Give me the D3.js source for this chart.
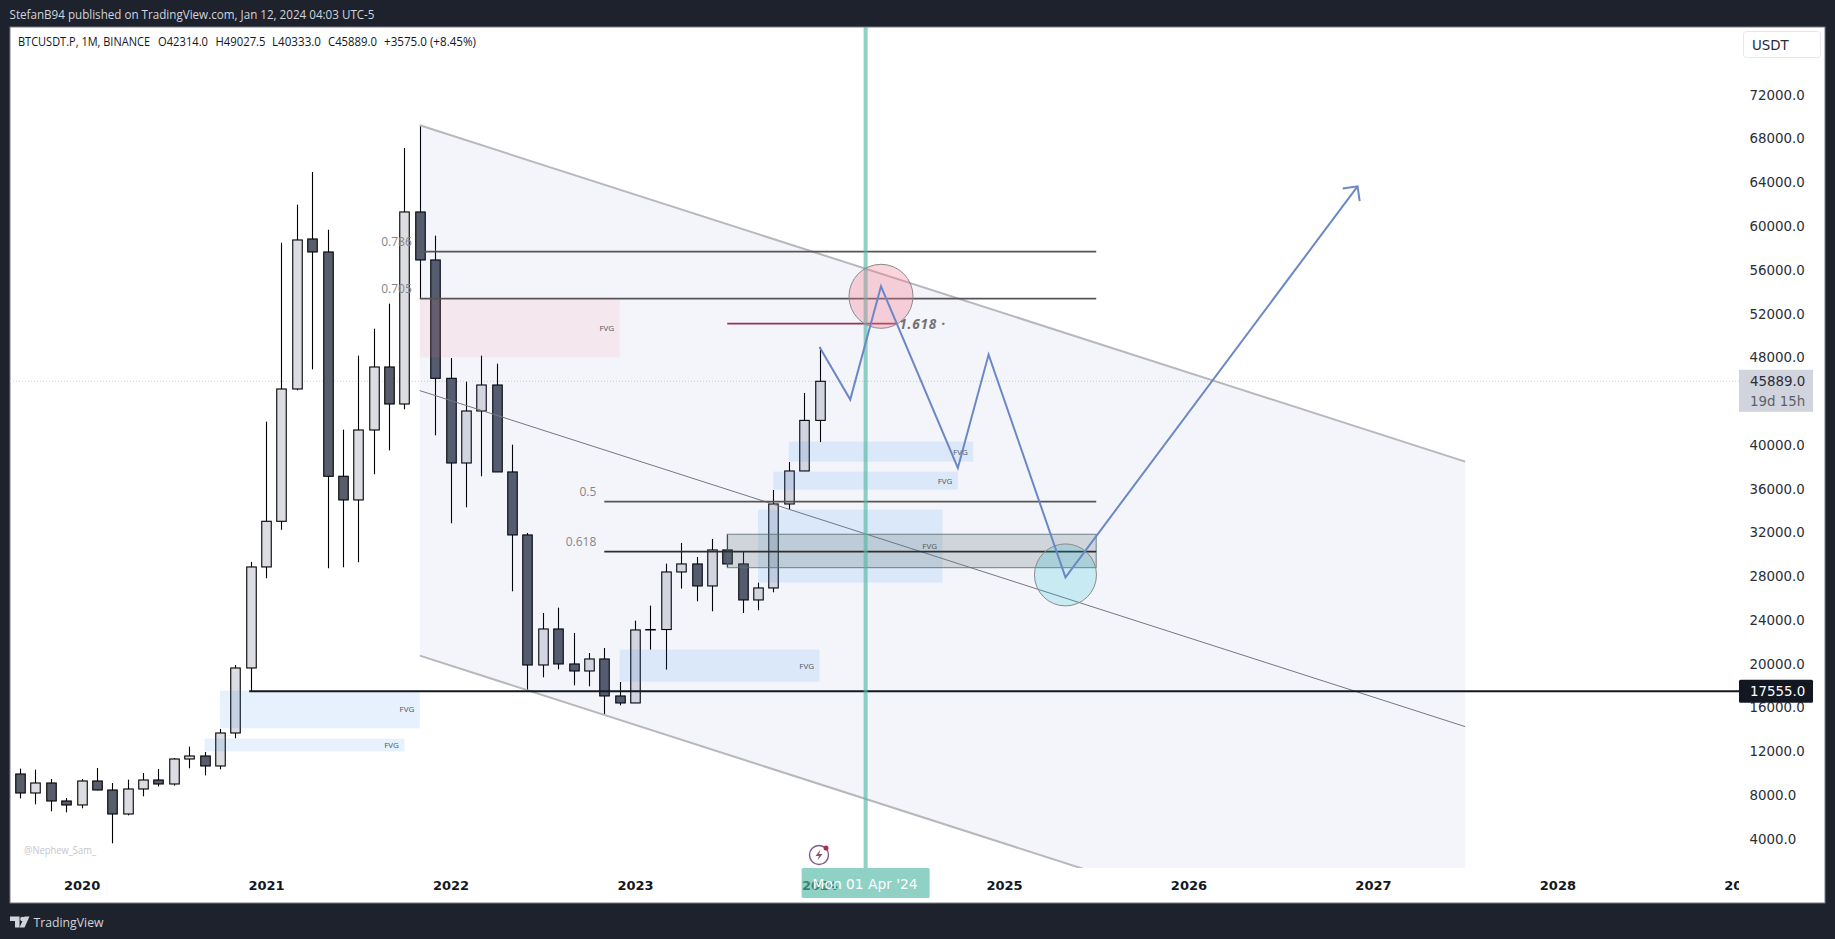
<!DOCTYPE html>
<html>
<head>
<meta charset="utf-8">
<script src="https://cdn.jsdelivr.net/npm/d3@7"></script>
<style>
  html, body { margin: 0; padding: 0; background: #1e222d; overflow: hidden; }
  svg { display: block; }
  text { font-family: 'DejaVu Sans', sans-serif; }
</style>
</head>
<body>
<div id="chart"></div>
<script>
//Monthly candles
const months = ['2019-09', '2019-10', '2019-11', '2019-12',
  '2020-01', '2020-02', '2020-03', '2020-04', '2020-05', '2020-06', '2020-07', '2020-08', '2020-09', '2020-10', '2020-11', '2020-12',
  '2021-01', '2021-02', '2021-03', '2021-04', '2021-05', '2021-06', '2021-07', '2021-08', '2021-09', '2021-10', '2021-11', '2021-12',
  '2022-01', '2022-02', '2022-03', '2022-04', '2022-05', '2022-06', '2022-07', '2022-08', '2022-09', '2022-10', '2022-11', '2022-12',
  '2023-01', '2023-02', '2023-03', '2023-04', '2023-05', '2023-06', '2023-07', '2023-08', '2023-09', '2023-10', '2023-11', '2023-12',
  '2024-01'];
const opens = [9997, 8260, 9174, 7529,
  7164, 9357, 8534, 6340, 8626, 9448, 9083, 11368, 11642, 10728, 13745, 19686,
  28919, 33093, 45185, 58896, 57708, 37207, 35043, 41437, 47196, 43813, 61365, 56977,
  46160, 38421, 43174, 45550, 37603, 31844, 19960, 23251, 20052, 19412, 20509, 17128,
  16488, 23161, 23200, 28462, 29194, 27183, 30473, 29194, 25903, 26999, 34675, 37692,
  42314];
const highs = [10484, 10393, 9540, 7803,
  9540, 10545, 9174, 9479, 10088, 10454, 11460, 12495, 12008, 14110, 19960, 29376,
  42199, 58561, 62035, 65021, 59750, 41468, 48232, 50700, 52985, 67215, 69287, 59201,
  48019, 45855, 48232, 47500, 40097, 32027, 24714, 25201, 22886, 21057, 21515, 18407,
  24014, 25385, 29224, 31113, 29833, 31479, 31875, 30351, 27487, 35955, 38514, 44822,
  49027.5];
const lows = [7773, 7224, 6584, 6493,
  6859, 8504, 3659, 6218, 7955, 8869, 8930, 10515, 9875, 10424, 13257, 17555,
  27883, 32331, 45063, 46983, 28797, 28888, 29345, 37389, 39578, 43326, 53443, 40949,
  32910, 34373, 37207, 37603, 26694, 17645, 18833, 19564, 18102, 18010, 15421, 16274,
  16488, 21363, 19535, 26939, 25781, 24867, 28889, 24714, 24958, 26600, 34218, 37692,
  40333];
const closes = [8260, 9174, 7529, 7164,
  9357, 8534, 6340, 8626, 9448, 9083, 11368, 11642, 10728, 13745, 19686, 28919,
  33093, 45185, 58805, 57708, 37207, 35043, 41437, 47196, 43813, 61365, 56977, 46160,
  38421, 43174, 45550, 37603, 31844, 19960, 23251, 20052, 19412, 20509, 17128, 16488,
  23161, 23200, 28462, 29194, 27183, 30473, 29194, 25903, 26999, 34675, 37692, 42314,
  45889];

const priceTicks = [4000, 8000, 12000, 16000, 20000, 24000, 28000, 32000, 36000, 40000, 48000, 52000, 56000, 60000, 64000, 68000, 72000];
const yearTicks = [2020, 2021, 2022, 2023, 2024, 2025, 2026, 2027, 2028, 2029];

const lastPrice = 45889;
const supportPrice = 17555;

//Parallel channel, start and end month, and prices of its three lines
const channelMonths = ['2021-11', '2027-07'];
const channelTop = [69285, 38548];
const channelMid = [45037, 14327];
const channelBottom = [20816, -9894];

//Fair value gaps
const gapNames = ['a', 'b', 'c', 'd', 'e', 'f'];
const gapStarts = ['2020-10', '2020-09', '2022-12', '2023-09', '2023-10', '2023-11'];
const gapEnds = ['2021-11', '2021-10', '2024-01', '2024-09', '2024-10', '2024-11'];
const gapTops = [17617, 13229, 21364, 34160, 37633, 40375];
const gapBottoms = [14171, 12068, 18439, 27488, 35988, 38547];

const pinkGap = { start: '2021-11', end: '2022-12', top: 53354, bottom: 48080 };
const greyZone = { start: '2023-07', end: '2025-07', top: 31904, bottom: 28859 };

//Fib levels
const fibLabels = ['0.786', '0.705', '0.5', '0.618'];
const fibPrices = [57741, 53445, 34891, 30321];
const fibStarts = ['2021-11', '2021-11', '2022-11', '2022-11'];
const fibEnd = '2025-07';
const extension = { label: '1.618', price: 51160, start: '2023-07', end: '2024-06' };

//Forecast path
const pathMonths = ['2024-01', '2024-03', '2024-05', '2024-10', '2024-12', '2025-05', '2026-12'];
const pathPrices = [49027.5, 44214, 54570, 37971, 48327, 27972, 63710];

const markerMonth = '2024-04';
const circleMonths = ['2024-05', '2025-05'];
const circlePrices = [53656, 28192];

const width = 1835,
  height = 939;

const pane = { left: 10, top: 27, right: 1825, bottom: 903 };
const plotRight = 1739,
  plotBottom = 868;

function monthIndex(m) {
  const parts = m.split('-');
  return (+parts[0] - 2020) * 12 + (+parts[1] - 1);
}

const x = d3.scaleLinear().domain([0, 108]).range([81.6, 81.6 + 108 * 15.373]);
const y = d3.scaleLinear().domain([4000, 72000]).range([839.6, 95.6]);
const xm = function (m) { return x(monthIndex(m)); };

const svg = d3.select('#chart')
  .append('svg')
  .attr('width', width)
  .attr('height', height);

svg.append('rect')
  .attr('width', width)
  .attr('height', height)
  .attr('fill', '#1e222d');

svg.append('rect')
  .attr('x', pane.left)
  .attr('y', pane.top)
  .attr('width', pane.right - pane.left)
  .attr('height', pane.bottom - pane.top)
  .attr('fill', '#fff')
  .attr('stroke', '#787b86')
  .attr('stroke-width', 1);

const defs = svg.append('defs');
defs.append('clipPath').attr('id', 'plotClip')
  .append('rect')
  .attr('x', pane.left)
  .attr('y', pane.top)
  .attr('width', plotRight - pane.left)
  .attr('height', plotBottom - pane.top);
defs.append('clipPath').attr('id', 'timeClip')
  .append('rect')
  .attr('x', pane.left)
  .attr('y', plotBottom)
  .attr('width', plotRight - pane.left)
  .attr('height', pane.bottom - plotBottom);

///////////////////////////////////////////////////////////////////////////
////////////////////////////////// Axes ///////////////////////////////////
///////////////////////////////////////////////////////////////////////////

const timeAxis = svg.append('g')
  .attr('clip-path', 'url(#timeClip)')
  .append('g')
  .attr('transform', 'translate(0,' + plotBottom + ')')
  .call(d3.axisBottom(x)
    .tickValues(yearTicks.map(function (d) { return (d - 2020) * 12; }))
    .tickFormat(function (d) { return 2020 + d / 12; })
    .tickSize(0)
    .tickPadding(12.5));
timeAxis.select('.domain').remove();
timeAxis.selectAll('text')
  .style('font-size', '13px')
  .style('font-weight', 'bold')
  .style('font-family', "'DejaVu Sans', sans-serif")
  .attr('fill', '#131722');

const priceAxis = svg.append('g')
  .attr('transform', 'translate(' + plotRight + ',0)')
  .call(d3.axisRight(y)
    .tickValues(priceTicks)
    .tickFormat(function (d) { return d.toFixed(1); })
    .tickSize(0)
    .tickPadding(10.5));
priceAxis.select('.domain').remove();
priceAxis.selectAll('text')
  .attr('dy', '0.27em')
  .style('font-size', '13.4px')
  .style('font-family', "'DejaVu Sans', sans-serif")
  .attr('fill', '#2a2e39');

///////////////////////////////////////////////////////////////////////////
///////////////////////////////// Candles /////////////////////////////////
///////////////////////////////////////////////////////////////////////////

const plot = svg.append('g').attr('clip-path', 'url(#plotClip)');

//Last price line
plot.append('line')
  .attr('x1', pane.left)
  .attr('x2', plotRight)
  .attr('y1', y(lastPrice))
  .attr('y2', y(lastPrice))
  .attr('stroke', '#cfd1d8')
  .attr('stroke-width', 1)
  .attr('stroke-dasharray', '1 2');

const candles = plot.selectAll('.candle')
  .data(months)
  .enter().append('g')
  .attr('class', 'candle');

candles.append('line')
  .attr('x1', function (d) { return Math.round(xm(d)) + 0.5; })
  .attr('x2', function (d) { return Math.round(xm(d)) + 0.5; })
  .attr('y1', function (d, i) { return y(highs[i]); })
  .attr('y2', function (d, i) { return y(lows[i]); })
  .attr('stroke', '#000')
  .attr('stroke-width', 1.1);

candles.append('rect')
  .attr('x', function (d) { return Math.round(xm(d)) + 0.5 - 4.75; })
  .attr('width', 9.5)
  .attr('y', function (d, i) { return y(Math.max(opens[i], closes[i])); })
  .attr('height', function (d, i) { return Math.abs(y(opens[i]) - y(closes[i])); })
  .attr('fill', function (d, i) { return closes[i] >= opens[i] ? '#dcdde2' : '#585d6c'; })
  .attr('stroke', '#000')
  .attr('stroke-width', 1.1);

///////////////////////////////////////////////////////////////////////////
///////////////////////////////// Drawings ////////////////////////////////
///////////////////////////////////////////////////////////////////////////

//Channel
plot.append('path')
  .attr('d', d3.line()([
    [xm(channelMonths[0]), y(channelTop[0])],
    [xm(channelMonths[1]), y(channelTop[1])],
    [xm(channelMonths[1]), y(channelBottom[1])],
    [xm(channelMonths[0]), y(channelBottom[0])]
  ]))
  .attr('fill', 'rgba(58,80,180,0.06)');

const channelLines = [channelTop, channelMid, channelBottom];
plot.selectAll('.channelLine')
  .data(channelLines)
  .enter().append('line')
  .attr('class', 'channelLine')
  .attr('x1', xm(channelMonths[0]))
  .attr('x2', xm(channelMonths[1]))
  .attr('y1', function (d) { return y(d[0]); })
  .attr('y2', function (d) { return y(d[1]); })
  .attr('stroke', function (d, i) { return i === 1 ? '#77777f' : '#b7b7bd'; })
  .attr('stroke-width', function (d, i) { return i === 1 ? 1 : 2; });

//Gaps
plot.selectAll('.gap')
  .data(gapNames)
  .enter().append('rect')
  .attr('class', 'gap')
  .attr('x', function (d, i) { return xm(gapStarts[i]); })
  .attr('width', function (d, i) { return xm(gapEnds[i]) - xm(gapStarts[i]); })
  .attr('y', function (d, i) { return y(gapTops[i]); })
  .attr('height', function (d, i) { return y(gapBottoms[i]) - y(gapTops[i]); })
  .attr('fill', 'rgba(30,130,240,0.11)');

plot.append('rect')
  .attr('x', xm(pinkGap.start))
  .attr('width', xm(pinkGap.end) - xm(pinkGap.start))
  .attr('y', y(pinkGap.top))
  .attr('height', y(pinkGap.bottom) - y(pinkGap.top))
  .attr('fill', 'rgba(255,110,120,0.10)');

plot.append('rect')
  .attr('x', xm(greyZone.start))
  .attr('width', xm(greyZone.end) - xm(greyZone.start))
  .attr('y', y(greyZone.top))
  .attr('height', y(greyZone.bottom) - y(greyZone.top))
  .attr('fill', 'rgba(100,120,120,0.25)')
  .attr('stroke', 'rgba(90,110,110,0.7)')
  .attr('stroke-width', 1.2);

plot.selectAll('.gapLabel')
  .data(gapNames)
  .enter().append('text')
  .attr('class', 'gapLabel')
  .attr('x', function (d, i) { return xm(gapEnds[i]) - 5.5; })
  .attr('y', function (d, i) { return y((gapTops[i] + gapBottoms[i]) / 2) + 3; })
  .attr('text-anchor', 'end')
  .style('font-size', '8px')
  .style('font-family', "'Open Sans', sans-serif")
  .attr('fill', '#555')
  .text('FVG');

plot.append('text')
  .attr('x', xm(pinkGap.end) - 5.5)
  .attr('y', y((pinkGap.top + pinkGap.bottom) / 2) + 3)
  .attr('text-anchor', 'end')
  .style('font-size', '8px')
  .style('font-family', "'Open Sans', sans-serif")
  .attr('fill', '#555')
  .text('FVG');

//Fib levels
plot.selectAll('.fib')
  .data(fibLabels)
  .enter().append('line')
  .attr('class', 'fib')
  .attr('x1', function (d, i) { return xm(fibStarts[i]); })
  .attr('x2', xm(fibEnd))
  .attr('y1', function (d, i) { return y(fibPrices[i]); })
  .attr('y2', function (d, i) { return y(fibPrices[i]); })
  .attr('stroke', function (d, i) { return i === 3 ? '#2e2e2e' : '#555'; })
  .attr('stroke-width', 1.7);

plot.selectAll('.fibLabel')
  .data(fibLabels)
  .enter().append('text')
  .attr('class', 'fibLabel')
  .attr('x', function (d, i) { return xm(fibStarts[i]) - 8; })
  .attr('y', function (d, i) { return y(fibPrices[i]) - 6; })
  .attr('text-anchor', 'end')
  .style('font-size', '12px')
  .style('font-family', "'Open Sans', sans-serif")
  .attr('fill', '#85868c')
  .text(function (d) { return d; });

plot.append('line')
  .attr('x1', xm(extension.start))
  .attr('x2', xm(extension.end))
  .attr('y1', y(extension.price))
  .attr('y2', y(extension.price))
  .attr('stroke', '#9c2f52')
  .attr('stroke-width', 1.7);

plot.append('text')
  .attr('x', xm(extension.end) + 3)
  .attr('y', y(extension.price) + 5)
  .style('font-size', '13.5px')
  .style('font-weight', 'bold')
  .style('font-style', 'italic')
  .style('font-family', "'Open Sans', sans-serif")
  .style('letter-spacing', '0.8px')
  .attr('fill', '#6f7076')
  .text(extension.label + ' ·');

//Support line
plot.append('line')
  .attr('x1', xm('2020-12') - 1.5)
  .attr('x2', plotRight)
  .attr('y1', y(supportPrice))
  .attr('y2', y(supportPrice))
  .attr('stroke', '#131722')
  .attr('stroke-width', 2);

//Vertical marker
plot.append('line')
  .attr('x1', xm(markerMonth))
  .attr('x2', xm(markerMonth))
  .attr('y1', pane.top)
  .attr('y2', plotBottom)
  .attr('stroke', 'rgba(83,184,164,0.65)')
  .attr('stroke-width', 4);

//Circles
plot.selectAll('.zone')
  .data(circleMonths)
  .enter().append('circle')
  .attr('class', 'zone')
  .attr('cx', function (d) { return xm(d); })
  .attr('cy', function (d, i) { return y(circlePrices[i]); })
  .attr('r', function (d, i) { return i === 0 ? 32 : 31; })
  .attr('fill', function (d, i) { return i === 0 ? 'rgba(245,124,145,0.33)' : 'rgba(0,188,212,0.18)'; })
  .attr('stroke', '#8a8a8a')
  .attr('stroke-width', 1);

//Forecast path and arrow head
const pathPoints = pathMonths.map(function (d, i) { return [xm(d), y(pathPrices[i])]; });

plot.append('path')
  .attr('d', d3.line()(pathPoints))
  .attr('fill', 'none')
  .attr('stroke', '#6b88c6')
  .attr('stroke-width', 2)
  .attr('stroke-linejoin', 'miter');

const tip = pathPoints[pathPoints.length - 1],
  prev = pathPoints[pathPoints.length - 2];
const heading = Math.atan2(prev[1] - tip[1], prev[0] - tip[0]);
const barbs = [heading - Math.PI / 4, heading + Math.PI / 4].map(function (a) {
  return [tip[0] + 15 * Math.cos(a), tip[1] + 15 * Math.sin(a)];
});
plot.append('path')
  .attr('d', d3.line()([barbs[0], tip, barbs[1]]))
  .attr('fill', 'none')
  .attr('stroke', '#6b88c6')
  .attr('stroke-width', 2);

///////////////////////////////////////////////////////////////////////////
////////////////////////// Labels and page chrome /////////////////////////
///////////////////////////////////////////////////////////////////////////

//Marker date on the time axis, see through so the year shows under it
svg.append('rect')
  .attr('x', xm(markerMonth) - 64)
  .attr('y', plotBottom)
  .attr('width', 128)
  .attr('height', 30)
  .attr('rx', 1.5)
  .attr('fill', 'rgba(83,184,164,0.65)');

svg.append('text')
  .attr('x', xm(markerMonth) - 0.5)
  .attr('y', 889)
  .attr('text-anchor', 'middle')
  .style('font-size', '13.8px')
  .attr('fill', '#fff')
  .text("Mon 01 Apr '24");

//Last price tag
svg.append('rect')
  .attr('x', plotRight)
  .attr('y', y(lastPrice) - 11.5)
  .attr('width', 74)
  .attr('height', 42)
  .attr('fill', '#d1d4dc');

svg.append('text')
  .attr('x', 1750)
  .attr('y', y(lastPrice) + 4.5)
  .style('font-size', '13.4px')
  .attr('fill', '#2a2e39')
  .text(lastPrice.toFixed(1));

svg.append('text')
  .attr('x', 1750)
  .attr('y', y(lastPrice) + 25)
  .style('font-size', '13.4px')
  .attr('fill', '#5d606b')
  .text('19d 15h');

//Support price tag
svg.append('rect')
  .attr('x', plotRight)
  .attr('y', y(supportPrice) - 11.5)
  .attr('width', 74)
  .attr('height', 23)
  .attr('rx', 1.5)
  .attr('fill', '#131722');

svg.append('text')
  .attr('x', 1750)
  .attr('y', y(supportPrice) + 5)
  .style('font-size', '13.4px')
  .attr('fill', '#fff')
  .text(supportPrice.toFixed(1));

//Currency button
svg.append('rect')
  .attr('x', 1743.5)
  .attr('y', 31.5)
  .attr('width', 77)
  .attr('height', 26)
  .attr('rx', 3)
  .attr('fill', '#fff')
  .attr('stroke', '#e6e8f0');

svg.append('text')
  .attr('x', 1752)
  .attr('y', 49.5)
  .style('font-size', '13.4px')
  .attr('fill', '#2a2e39')
  .text('USDT');

//Header
svg.append('text')
  .attr('x', 9.5)
  .attr('y', 19)
  .attr('textLength', 365)
  .attr('lengthAdjust', 'spacingAndGlyphs')
  .style('font-size', '12px')
  .style('font-family', "'Open Sans', sans-serif")
  .attr('fill', '#d1d4dc')
  .text('StefanB94 published on TradingView.com, Jan 12, 2024 04:03 UTC-5');

const legendTexts = ['BTCUSDT.P, 1M, BINANCE', 'O42314.0', 'H49027.5', 'L40333.0', 'C45889.0', '+3575.0 (+8.45%)'];
const legendStarts = [18, 158, 215.5, 272, 328, 384];
const legendWidths = [132, 50, 50, 49, 49, 92];
svg.selectAll('.legend')
  .data(legendTexts)
  .enter().append('text')
  .attr('class', 'legend')
  .attr('x', function (d, i) { return legendStarts[i]; })
  .attr('y', 46)
  .attr('textLength', function (d, i) { return legendWidths[i]; })
  .attr('lengthAdjust', 'spacingAndGlyphs')
  .style('font-size', '12px')
  .style('font-family', "'Open Sans', sans-serif")
  .attr('fill', '#131722')
  .text(function (d) { return d; });

svg.append('text')
  .attr('x', 24)
  .attr('y', 854)
  .attr('textLength', 72)
  .attr('lengthAdjust', 'spacingAndGlyphs')
  .style('font-size', '11px')
  .style('font-family', "'Open Sans', sans-serif")
  .attr('fill', '#c4c6cd')
  .text('@Nephew_Sam_');

//Event icon above the time axis
const icon = svg.append('g').attr('transform', 'translate(819,855)');
icon.append('circle')
  .attr('r', 9.5)
  .attr('fill', 'none')
  .attr('stroke', '#7d5a85')
  .attr('stroke-width', 1.4);
icon.append('path')
  .attr('d', 'M1.5 -5.5 L-3.5 1 L0 1 L-1.5 5.5 L3.5 -1 L0 -1 Z')
  .attr('fill', '#8a5075');
icon.append('circle')
  .attr('cx', 7)
  .attr('cy', -7)
  .attr('r', 2.5)
  .attr('fill', '#a8304f');

//TradingView logo
const logo = svg.append('g').attr('fill', '#d1d4dc');
logo.append('path').attr('d', 'M10 916.5 H19.5 V927.5 H15 V921 H10 Z');
logo.append('circle').attr('cx', 22.5).attr('cy', 919).attr('r', 2.3);
logo.append('path').attr('d', 'M29.5 916.5 L24.5 927.5 H19.5 L24.5 916.5 Z');

svg.append('text')
  .attr('x', 33.5)
  .attr('y', 927)
  .attr('textLength', 70)
  .attr('lengthAdjust', 'spacingAndGlyphs')
  .style('font-size', '13px')
  .style('font-family', "'Open Sans', sans-serif")
  .attr('fill', '#d1d4dc')
  .text('TradingView');
</script>
</body>
</html>
